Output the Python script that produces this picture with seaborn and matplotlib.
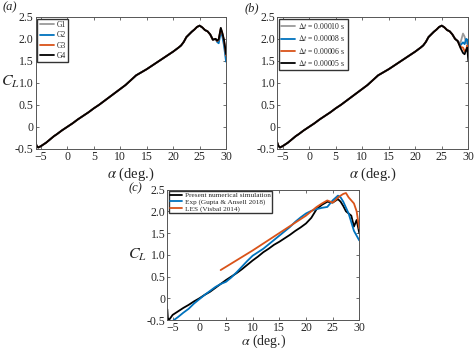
import matplotlib
matplotlib.use("Agg")
import matplotlib.pyplot as plt
import seaborn as sns

# shared attached-flow part (alpha, CL) (a) and (b)
alpha_base = [-6, -5.8, -5.5, -5, -4.5, -4, -3.5, -3, -2.5, -2, -1, 0, 1, 2, 3, 4, 5, 6,
              7, 8, 9, 10, 11, 12, 13, 14, 15, 16, 17, 18, 19, 20, 21, 21.5, 22,
              22.5, 23, 23.5, 24, 24.5, 25, 25.5, 26, 26.5, 27]
cl_base = [-0.36, -0.43, -0.47, -0.44, -0.4, -0.36, -0.31, -0.26, -0.21, -0.17, -0.08,
           0.0, 0.08, 0.17, 0.25, 0.33, 0.42, 0.5, 0.59, 0.68, 0.77, 0.86, 0.95, 1.06,
           1.17, 1.24, 1.31, 1.39, 1.47, 1.55, 1.63, 1.71, 1.8, 1.85, 1.93, 2.04, 2.1,
           2.16, 2.21, 2.27, 2.3, 2.26, 2.2, 2.17, 2.1]

# panel (a): grid study tails
alpha_tail_a = [27.5, 28, 28.3, 28.6, 29, 29.3, 29.6, 30]
cl_tail_g1 = [1.98, 2.0, 1.95, 1.97, 2.22, 2.1, 1.95, 1.55]
cl_tail_g2 = [1.98, 2.0, 1.93, 1.9, 2.15, 2.05, 1.85, 1.48]
cl_tail_g3 = [1.98, 2.0, 1.95, 1.98, 2.23, 2.12, 1.96, 1.62]
cl_tail_g4 = [1.98, 2.0, 1.96, 1.99, 2.25, 2.13, 1.98, 1.65]
labels_a = ["G1", "G2", "G3", "G4"]

# panel (b): time-step study tails
alpha_tail_b = [27.5, 28, 28.5, 29, 29.3, 29.6, 29.8, 30]
cl_tail_dt1 = [2.0, 1.95, 1.9, 2.12, 2.05, 1.9, 1.95, 1.7]
cl_tail_dt2 = [2.0, 1.95, 1.85, 1.92, 1.88, 2.0, 1.98, 1.8]
cl_tail_dt3 = [2.0, 1.95, 1.82, 1.8, 1.72, 1.75, 1.85, 1.7]
cl_tail_dt4 = [2.0, 1.95, 1.8, 1.68, 1.65, 1.75, 1.8, 1.5]
labels_b = ["$\\Delta t$ = 0.00010 s", "$\\Delta t$ = 0.00008 s",
            "$\\Delta t$ = 0.00006 s", "$\\Delta t$ = 0.00005 s"]

# panel (c): comparison with experiment and LES
alpha_sim = [-6, -5.9, -5.7, -5, -4, -3, -2, -1, 0, 1, 2, 3, 4, 5, 6, 7, 8, 9, 10, 11,
             12, 13, 14, 15, 16, 17, 18, 19, 20, 21, 22, 23, 24, 25, 25.5, 26, 26.5,
             27, 27.5, 28, 28.5, 29, 29.5, 30]
cl_sim = [-0.25, -0.45, -0.5, -0.38, -0.3, -0.22, -0.15, -0.07, 0.0, 0.08, 0.15, 0.24,
          0.33, 0.42, 0.5, 0.58, 0.67, 0.77, 0.87, 0.96, 1.06, 1.14, 1.23, 1.3, 1.38,
          1.46, 1.55, 1.63, 1.72, 1.85, 2.05, 2.15, 2.22, 2.2, 2.24, 2.28, 2.22, 2.12,
          2.0, 1.95, 1.9, 1.65, 1.8, 1.5]
alpha_exp = [-5, -4, -3, -2, -1, 0, 1, 2, 3, 4, 5, 6, 7, 8, 9, 10, 11, 12, 13, 14, 15,
             16, 17, 18, 19, 20, 21, 22, 23, 24, 25, 26, 26.5, 27, 28, 29, 30]
cl_exp = [-0.52, -0.43, -0.33, -0.24, -0.12, -0.02, 0.08, 0.17, 0.26, 0.33, 0.38, 0.48,
          0.6, 0.73, 0.86, 0.98, 1.06, 1.14, 1.24, 1.34, 1.44, 1.54, 1.64, 1.76, 1.86,
          1.95, 2.01, 2.05, 2.08, 2.1, 2.25, 2.36, 2.32, 2.22, 1.95, 1.55, 1.33]
alpha_les = [4, 6, 8, 10, 12, 14, 16, 18, 20, 21, 22, 23, 24, 25, 25.5, 26, 27, 27.5,
             28, 28.5, 29, 29.5, 30]
cl_les = [0.65, 0.8, 0.95, 1.1, 1.26, 1.42, 1.58, 1.74, 1.9, 2.0, 2.1, 2.18, 2.25, 2.2,
          2.25, 2.32, 2.4, 2.42, 2.32, 2.25, 2.18, 2.0, 1.6]
labels_c = ["Present numerical simulation", "Exp (Gupta & Ansell 2018)",
            "LES (Visbal 2014)"]

GRAY, BLUE, ORANGE, BLACK = "#9a9a9a", "#0072BD", "#D95319", "black"

sns.set_style("ticks")
plt.rcParams["font.family"] = ["Liberation Serif", "DejaVu Serif"]
plt.rcParams["mathtext.fontset"] = "stix"

fig = plt.figure(figsize=(4.74, 3.51), dpi=100)
ax_a = fig.add_axes([0.075, 0.576, 0.402, 0.376])
ax_b = fig.add_axes([0.585, 0.576, 0.403, 0.376])
ax_c = fig.add_axes([0.353, 0.088, 0.405, 0.372])


def style_axes(ax, tag, tag_xy, ylab=True, xpad=0.5, xfs=10.5):
    ax.set_xlim(-6, 30)
    ax.set_ylim(-0.5, 2.5)
    ax.set_xticks([-5, 0, 5, 10, 15, 20, 25, 30])
    ax.set_yticks([-0.5, 0, 0.5, 1.0, 1.5, 2.0, 2.5])
    ax.set_yticklabels(["-0.5", "0", "0.5", "1.0", "1.5", "2.0", "2.5"])
    ax.tick_params(direction="in", top=True, right=True, labelsize=8.5,
                   length=2.5, width=0.6, color="#555555", pad=1.5)
    for sp in ax.spines.values():
        sp.set_linewidth(0.7)
        sp.set_color("#555555")
        sp.set_visible(True)
    ax.set_xlabel("$\\alpha$ (deg.)", fontsize=xfs, labelpad=xpad)
    if ylab:
        ax.set_ylabel("$C_L$", fontsize=11.5, rotation=0, va="center")
        ax.yaxis.set_label_coords(-0.13, 0.51)
    else:
        ax.set_ylabel("")
    fig.text(tag_xy[0], tag_xy[1], tag, fontsize=9, style="italic", va="center")


def add_legend(ax, fs, hl, bp, ls):
    ax.legend(loc="upper left", fontsize=fs, handlelength=hl, borderpad=bp,
              labelspacing=ls, fancybox=False, edgecolor="#333333",
              framealpha=1, borderaxespad=0.25, handletextpad=0.4)


# (a)
for tail, col, lab in zip([cl_tail_g1, cl_tail_g2, cl_tail_g3, cl_tail_g4],
                          [GRAY, BLUE, ORANGE, BLACK], labels_a):
    sns.lineplot(x=alpha_base + alpha_tail_a, y=cl_base + tail, sort=False,
                 color=col, lw=1.3, label=lab, ax=ax_a)
style_axes(ax_a, "(a)", (0.006, 0.978), xpad=2)
add_legend(ax_a, 5.5, 1.8, 0.3, 0.3)

# (b)
for tail, col, lab in zip([cl_tail_dt1, cl_tail_dt2, cl_tail_dt3, cl_tail_dt4],
                          [GRAY, BLUE, ORANGE, BLACK], labels_b):
    sns.lineplot(x=alpha_base + alpha_tail_b, y=cl_base + tail, sort=False,
                 color=col, lw=1.3, label=lab, ax=ax_b)
style_axes(ax_b, "(b)", (0.515, 0.975), ylab=False, xpad=2)
add_legend(ax_b, 5.5, 1.8, 0.3, 0.3)

# (c)
for xs, ys, col, lab in zip([alpha_sim, alpha_exp, alpha_les],
                            [cl_sim, cl_exp, cl_les],
                            [BLACK, BLUE, ORANGE], labels_c):
    sns.lineplot(x=xs, y=ys, sort=False, color=col, lw=1.3, label=lab, ax=ax_c)
style_axes(ax_c, "(c)", (0.272, 0.464), xpad=-1, xfs=10)
ax_c.yaxis.set_label_coords(-0.155, 0.5)
add_legend(ax_c, 5.2, 1.6, 0.15, 0.05)

fig.savefig("out.png", dpi=100)
